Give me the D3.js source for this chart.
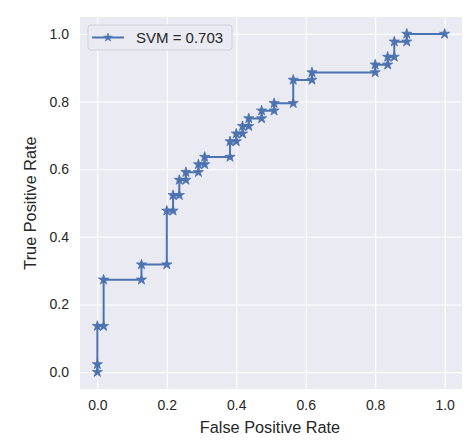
<!DOCTYPE html>
<html>
<head>
<meta charset="utf-8">
<script src="https://cdn.jsdelivr.net/npm/d3@7"></script>
<style>
  body { margin: 0; background: #fff; }
  text { font-family: "Liberation Sans", Arial, sans-serif; fill: #262626; }
</style>
</head>
<body>
<div id="chart"></div>
<script>
// ROC points
var fpr = [0, 0, 0, 0.018, 0.018, 0.127, 0.127, 0.2, 0.2, 0.218, 0.218, 0.236, 0.236, 0.255, 0.255,
           0.291, 0.291, 0.309, 0.309, 0.382, 0.382, 0.4, 0.4, 0.418, 0.418, 0.436, 0.436, 0.473, 0.473,
           0.509, 0.509, 0.564, 0.564, 0.618, 0.618, 0.8, 0.8, 0.836, 0.836, 0.855, 0.855, 0.891, 0.891, 1];
var tpr = [0, 0.023, 0.136, 0.136, 0.273, 0.273, 0.318, 0.318, 0.477, 0.477, 0.523, 0.523, 0.568, 0.568, 0.591,
           0.591, 0.614, 0.614, 0.636, 0.636, 0.682, 0.682, 0.705, 0.705, 0.727, 0.727, 0.75, 0.75, 0.773,
           0.773, 0.795, 0.795, 0.864, 0.864, 0.886, 0.886, 0.909, 0.909, 0.932, 0.932, 0.977, 0.977, 1, 1];
var xTicks = [0, 0.2, 0.4, 0.6, 0.8, 1.0];
var yTicks = [0, 0.2, 0.4, 0.6, 0.8, 1.0];
var seriesName = "SVM = 0.703";

var W = 474, H = 443;
var pLeft = 80, pTop = 17, pRight = 462, pBottom = 389;
var blue = "#4c72b0";

var svg = d3.select("#chart").append("svg")
    .attr("width", W).attr("height", H);

var x = d3.scaleLinear().domain([-0.05, 1.05]).range([pLeft, pRight]);
var y = d3.scaleLinear().domain([-0.05, 1.05]).range([pBottom, pTop]);

svg.append("rect")
    .attr("x", pLeft).attr("y", pTop)
    .attr("width", pRight - pLeft).attr("height", pBottom - pTop)
    .attr("fill", "#eaeaf2");

// grid
var xAxis = d3.axisBottom(x).tickValues(xTicks).tickFormat(d3.format(".1f"))
    .tickSize(-(pBottom - pTop)).tickPadding(11);
var yAxis = d3.axisLeft(y).tickValues(yTicks).tickFormat(d3.format(".1f"))
    .tickSize(-(pRight - pLeft)).tickPadding(11);

var gx = svg.append("g").attr("transform", "translate(0," + pBottom + ")").call(xAxis);
var gy = svg.append("g").attr("transform", "translate(" + pLeft + ",0)").call(yAxis);
[gx, gy].forEach(function(g) {
    g.select(".domain").remove();
    g.selectAll(".tick line").attr("stroke", "#fff").attr("stroke-width", 1.1);
    g.selectAll(".tick text").style("font-size", "14px").style("font-family", "Liberation Sans, Arial, sans-serif").attr("fill", "#303030");
});

var pts = fpr.map(function(d, i) { return [d, tpr[i]]; });

var line = d3.line().x(function(d) { return x(d[0]); }).y(function(d) { return y(d[1]); });
svg.append("path")
    .datum(pts)
    .attr("d", line)
    .attr("fill", "none")
    .attr("stroke", blue)
    .attr("stroke-width", 2);

var star = d3.symbol().type(d3.symbolStar).size(32);
svg.append("g").selectAll("path")
    .data(pts).enter()
    .append("path")
    .attr("d", star)
    .attr("transform", function(d) { return "translate(" + x(d[0]) + "," + y(d[1]) + ")"; })
    .attr("fill", blue)
    .attr("stroke", blue)
    .attr("stroke-width", 0.8);

// axis labels
svg.append("text")
    .attr("x", 270).attr("y", 433)
    .attr("text-anchor", "middle")
    .style("font-size", "16.3px")
    .text("False Positive Rate");

svg.append("text")
    .attr("transform", "translate(36," + ((pTop + pBottom) / 2) + ") rotate(-90)")
    .attr("text-anchor", "middle")
    .style("font-size", "16.3px")
    .text("True Positive Rate");

// legend
var lg = svg.append("g");
lg.append("rect")
    .attr("x", 88).attr("y", 25).attr("width", 144).attr("height", 25).attr("rx", 3)
    .attr("fill", "#eaeaf2").attr("stroke", "#d0d0d8").attr("stroke-width", 1);
lg.append("line")
    .attr("x1", 92).attr("x2", 124).attr("y1", 37.5).attr("y2", 37.5)
    .attr("stroke", blue).attr("stroke-width", 2);
lg.append("path")
    .attr("d", d3.symbol().type(d3.symbolStar).size(22))
    .attr("transform", "translate(108,37.5)")
    .attr("fill", blue).attr("stroke", blue).attr("stroke-width", 0.6);
lg.append("text")
    .attr("x", 136).attr("y", 43)
    .style("font-size", "15px")
    .text(seriesName);
</script>
</body>
</html>
